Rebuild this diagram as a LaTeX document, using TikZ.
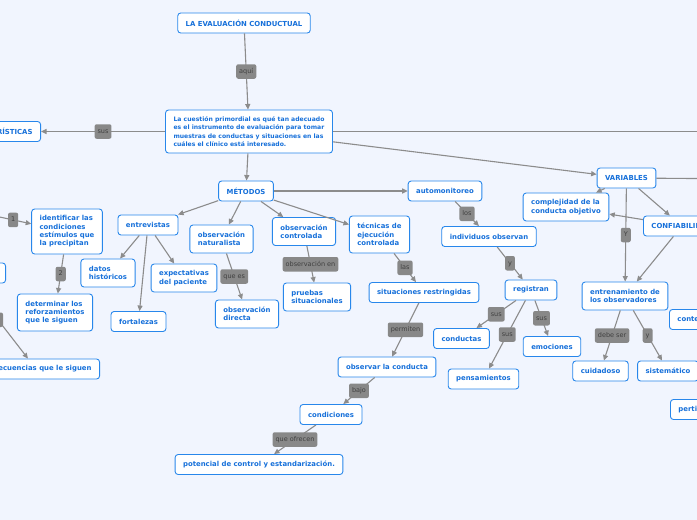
\documentclass[tikz,border=0pt]{standalone}
\usepackage{fontspec}
\setmainfont{DejaVu Sans}
\usetikzlibrary{arrows.meta}
\definecolor{bg}{RGB}{241,245,254}
\definecolor{bbord}{RGB}{40,135,235}
\definecolor{btext}{RGB}{22,112,218}
\definecolor{lfill}{RGB}{136,136,136}
\definecolor{ltext}{RGB}{64,64,64}
\definecolor{ecol}{RGB}{140,140,140}
\tikzset{
 box/.style={draw=bbord, line width=0.9pt, fill=white, rounded corners=3pt, text=btext,
   font=\fontsize{6.9}{8.3}\selectfont\bfseries, align=left, inner xsep=8pt, inner ysep=3pt, minimum height=20pt},
 two/.style={minimum height=28pt},
 three/.style={minimum height=37pt},
 four/.style={minimum height=45pt},
 lbl/.style={fill=lfill, rounded corners=2pt, text=ltext, font=\fontsize{6.5}{7.5}\selectfont,
   inner xsep=3pt, inner ysep=0pt, minimum height=14.5pt, text height=5pt, text depth=1.5pt},
 edge/.style={draw=ecol, line width=1.1pt, -{Triangle[length=5.5pt,width=5pt]}},
}
\begin{document}
\begin{tikzpicture}[x=1pt,y=-1pt]
\useasboundingbox (0,0) rectangle (697,520);
\fill[bg] (0,0) rectangle (697,520);
\begin{scope}
\clip (0,0) rectangle (697,520);
\node[box] (title) at (244,23) {LA EVALUACIÓN CONDUCTUAL};
\node[box, minimum height=43pt, font=\fontsize{6.1}{8.2}\selectfont\bfseries] (cuest) at (249,131.5) {La cuestión primordial es qué tan adecuado\\es el instrumento de evaluación para tomar\\muestras de conductas y situaciones en las\\cuáles el clínico está interesado.};
\node[box, anchor=east] (carac) at (41,131.5) {CARACTERÍSTICAS};
\node[box] (met) at (246,191) {MÉTODOS};
\node[box] (var) at (626.5,178) {VARIABLES};
\node[box] (auto) at (445,191) {automonitoreo};
\node[box] (entr) at (148,225) {entrevistas};
\node[box,two] (onat) at (221.5,239) {observación\\naturalista};
\node[box,two] (octl) at (304,231.5) {observación\\controlada};
\node[box,three] (tec) at (379.5,234.5) {técnicas de\\ejecución\\controlada};
\node[box,two] (datos) at (108,273) {datos\\históricos};
\node[box] (fort) at (138.5,321.5) {fortalezas};
\node[box,two] (expe) at (184,278) {expectativas\\del paciente};
\node[box,two] (odir) at (247,314) {observación\\directa};
\node[box,two] (prue) at (317,297) {pruebas\\situacionales};
\node[box] (sitr) at (424,292.5) {situaciones restringidas};
\node[box] (obsc) at (387,367) {observar la conducta};
\node[box] (cond) at (331,414.5) {condiciones};
\node[box] (pot) at (259,464.5) {potencial de control y estandarización.};
\node[box] (indiv) at (489,236.5) {individuos observan};
\node[box] (reg) at (531,290) {registran};
\node[box] (cdtas) at (461.5,338.5) {conductas};
\node[box] (pens) at (483.5,379) {pensamientos};
\node[box] (emoc) at (552,346.5) {emociones};
\node[box,two] (compl) at (566,207) {complejidad de la\\conducta objetivo};
\node[box, anchor=west] (conf) at (643,226) {CONFIABILIDAD};
\node[box,two] (entn) at (625,296) {entrenamiento de\\los observadores};
\node[box] (cuid) at (600.5,371) {cuidadoso};
\node[box] (sist) at (668,371) {sistemático};
\node[box, anchor=west] (cont) at (669,319.5) {contexto};
\node[box, anchor=west] (pert) at (670,409.5) {pertinencia};
\node[box,four] (ident) at (67,231.5) {identificar las\\condiciones\\estímulos que\\la precipitan};
\node[box,three] (deter) at (55,312.5) {determinar los\\reforzamientos\\que le siguen};
\node[box, anchor=east] (conseq) at (100,369) {consecuencias que le siguen};
\node[box, anchor=east, minimum width=40pt] (lbox) at (6,273) {};
\coordinate (farA) at (760,131.5);
\coordinate (farB) at (760,179);
\coordinate (src1) at (-5,216);
\coordinate (src3) at (-32,281);
\draw[edge] (title) -- node[lbl] (la) {aquí} (cuest);
\draw[edge] (cuest) -- node[lbl] (lb) {sus} (carac);
\draw[edge] (cuest) -- (farA);
\draw[edge] (cuest) -- (var);
\draw[edge] (cuest) -- (met);
\draw[edge] (var) -- (farB);
\draw[edge] (met) -- (auto);
\draw[edge] (met) -- (entr);
\draw[edge] (met) -- (onat);
\draw[edge] (met) -- (octl);
\draw[edge] (met) -- (tec);
\draw[edge] (entr) -- (datos);
\draw[edge] (entr) -- (fort);
\draw[edge] (entr) -- (expe);
\draw[edge] (onat) -- node[lbl] (lc) {que es} (odir);
\draw[edge] (octl) -- node[lbl] (ld) {observación en} (prue);
\draw[edge] (tec) -- node[lbl] (le) {las} (sitr);
\draw[edge] (sitr) -- node[lbl] (lf) {permiten} (obsc);
\draw[edge] (obsc) -- node[lbl] (lg) {bajo} (cond);
\draw[edge] (cond) -- node[lbl] (lh) {que ofrecen} (pot);
\draw[edge] (auto) -- node[lbl] (li) {los} (indiv);
\draw[edge] (indiv) -- node[lbl] (lj) {y} (reg);
\draw[edge] (reg) -- node[lbl] (lk) {sus} (cdtas);
\draw[edge] (reg) -- node[lbl] (ll) {sus} (pens);
\draw[edge] (reg) -- node[lbl] (lm) {sus} (emoc);
\draw[edge] (var) -- (compl);
\draw[edge] (var) -- (conf);
\draw[edge] (conf) -- (compl);
\draw[edge] (var) -- node[lbl] (ln) {Y} (entn);
\draw[edge] (conf) -- (entn);
\draw[edge] (entn) -- node[lbl] (lo) {debe ser} (cuid);
\draw[edge] (entn) -- node[lbl] (lp) {y} (sist);
\draw[edge] (src1) -- node[lbl] (lq) {1} (ident);
\draw[edge] (ident) -- node[lbl] (lr) {2} (deter);
\draw[edge] (src3) -- node[lbl] (ls) {3} (conseq);
\end{scope}
\end{tikzpicture}
\end{document}
